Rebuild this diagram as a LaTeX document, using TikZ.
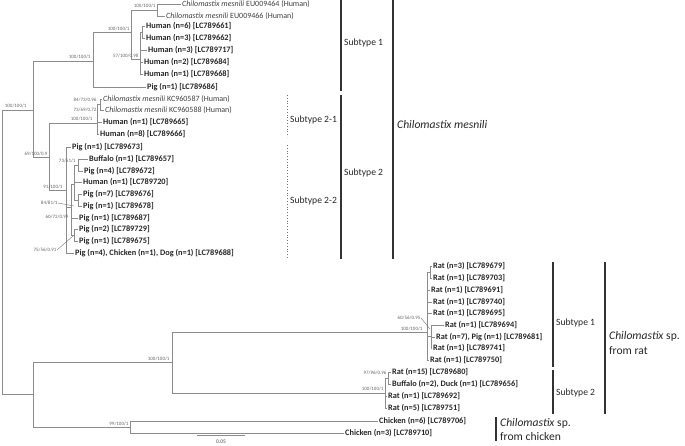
\documentclass[tikz,border=0pt]{standalone}
\usepackage{fontspec}
\setmainfont{Carlito}
\begin{document}
\begin{tikzpicture}[x=1pt,y=-1pt,
  br/.style={draw=black!45, line width=0.9pt},
  lf/.style={anchor=west, inner sep=1pt, font=\fontsize{8.3}{9}\selectfont\bfseries, text=black!85},
  itl/.style={anchor=west, inner sep=1pt, font=\fontsize{8}{9}\selectfont, text=black!75},
  sup/.style={anchor=east, inner sep=0.3pt, font=\fontsize{5}{6}\selectfont, text=black!60},
  ldr/.style={draw=black!55, line width=0.4pt},
  bar/.style={draw=black!80, line width=1.6pt},
  dbar/.style={draw=black!55, line width=0.8pt, dotted},
  lab/.style={anchor=west, inner sep=1pt, font=\fontsize{9.6}{11}\selectfont, text=black!85},
  biglab/.style={anchor=west, inner sep=1pt, font=\fontsize{11.6}{14.5}\selectfont, text=black!85, align=left}]
\useasboundingbox (0,0) rectangle (685,445);
% internal nodes
\coordinate (root) at (2,252);
\coordinate (X) at (33,110);
\coordinate (S1) at (93,61);
\coordinate (T) at (131,32);
\coordinate (EU) at (157,10);
\coordinate (H) at (140,59);
\coordinate (Hs) at (142,32);
\coordinate (S2) at (49,157);
\coordinate (N21) at (97,123);
\coordinate (N84b) at (100,104);
\coordinate (S22) at (66,190);
\coordinate (A60) at (71,207);
\coordinate (A84) at (74,184);
\coordinate (A73) at (78,165);
\coordinate (A7) at (78,200);
\coordinate (A75) at (74,235);
\coordinate (RC) at (33,394);
\coordinate (RT) at (172,362);
\coordinate (RS1) at (427,332);
\coordinate (RA) at (430,272);
\coordinate (RB) at (431,336);
\coordinate (RS2) at (385,393);
\coordinate (R97) at (388,378);
\coordinate (CH) at (130,427);
% leaves
\node[itl] (eu464) at (181,4.5) {\textit{Chilomastix mesnili} EU009464 (Human)};
\node[itl] (eu466) at (165,16) {\textit{Chilomastix mesnili} EU009466 (Human)};
\node[lf] (h6) at (145,26) {Human (n=6) [LC789661]};
\node[lf] (h3a) at (145,38) {Human (n=3) [LC789662]};
\node[lf] (h3b) at (147,50) {Human (n=3) [LC789717]};
\node[lf] (h2) at (143,62) {Human (n=2) [LC789684]};
\node[lf] (h1) at (143,74) {Human (n=1) [LC789668]};
\node[lf] (p686) at (146,87) {Pig (n=1) [LC789686]};
\node[itl] (kc587) at (102,99) {\textit{Chilomastix mesnili} KC960587 (Human)};
\node[itl] (kc588) at (104,110) {\textit{Chilomastix mesnili} KC960588 (Human)};
\node[lf] (h665) at (102,122) {Human (n=1) [LC789665]};
\node[lf] (h666) at (99,134) {Human (n=8) [LC789666]};
\node[lf] (p673) at (71,147) {Pig (n=1) [LC789673]};
\node[lf] (buf) at (88,159) {Buffalo (n=1) [LC789657]};
\node[lf] (p4) at (83,171) {Pig (n=4) [LC789672]};
\node[lf] (h720) at (82,182) {Human (n=1) [LC789720]};
\node[lf] (p7) at (82,194) {Pig (n=7) [LC789676]};
\node[lf] (p678) at (82,206) {Pig (n=1) [LC789678]};
\node[lf] (p687) at (78,218) {Pig (n=1) [LC789687]};
\node[lf] (p729) at (78,229) {Pig (n=2) [LC789729]};
\node[lf] (p675) at (78,241) {Pig (n=1) [LC789675]};
\node[lf] (p688) at (74,253) {Pig (n=4), Chicken (n=1), Dog (n=1) [LC789688]};
\node[lf] (r679) at (432,266) {Rat (n=3) [LC789679]};
\node[lf] (r703) at (432,278) {Rat (n=1) [LC789703]};
\node[lf] (r691) at (430,290) {Rat (n=1) [LC789691]};
\node[lf] (r740) at (432,302) {Rat (n=1) [LC789740]};
\node[lf] (r695) at (432,313) {Rat (n=1) [LC789695]};
\node[lf] (r694) at (444,325) {Rat (n=1) [LC789694]};
\node[lf] (r681) at (435,337) {Rat (n=7), Pig (n=1) [LC789681]};
\node[lf] (r741) at (432,348) {Rat (n=1) [LC789741]};
\node[lf] (r750) at (429,360) {Rat (n=1) [LC789750]};
\node[lf] (r680) at (391,372) {Rat (n=15) [LC789680]};
\node[lf] (b656) at (391,384) {Buffalo (n=2), Duck (n=1) [LC789656]};
\node[lf] (r692) at (387,396) {Rat (n=1) [LC789692]};
\node[lf] (r751) at (387,408) {Rat (n=5) [LC789751]};
\node[lf] (c706) at (378,421) {Chicken (n=6) [LC789706]};
\node[lf] (c710) at (344,433) {Chicken (n=3) [LC789710]};
% branches between internal nodes
\foreach \p/\c in {root/X, root/RC, X/S1, X/S2, S1/T, T/EU, T/H, H/Hs, S2/N21, S2/S22,
  N21/N84b, S22/A60, A60/A84, A60/A75, A84/A73, A84/A7, RC/RT, RC/CH, RT/RS1, RT/RS2,
  RS1/RA, RS1/RB, RS2/R97}
  \draw[br] (\p) |- (\c);
% branches to leaves
\foreach \p/\c in {EU/eu464, EU/eu466, Hs/h6, Hs/h3a, H/h3b, H/h2, H/h1, S1/p686,
  N84b/kc587, N84b/kc588, N21/h665, N21/h666, S22/p673, S22/p688, A73/buf, A73/p4,
  A84/h720, A7/p7, A7/p678, A60/p687, A75/p729, A75/p675,
  RA/r679, RA/r703, RS1/r691, RS1/r740, RS1/r695, RB/r694, RB/r681, RB/r741, RS1/r750,
  R97/r680, R97/b656, RS2/r692, RS2/r751, CH/c706, CH/c710}
  \draw[br] (\p) |- (\c.west);
% support values
\node[sup] (s1) at (156,6) {100/100/1};
\node[sup] (s2) at (130,29) {100/100/1};
\node[sup] (s3) at (91,57) {100/100/1};
\node[sup] (s4) at (139,56) {57/100/0.98};
\node[sup] (s5) at (27,106) {100/100/1};
\node[sup] (s6) at (97,100) {84/73/0.96};
\node[sup] (s7) at (97,110) {73/69/0.72};
\node[sup] (s8) at (93,119) {100/100/1};
\node[sup] (s9) at (48,154) {69/100/0.9};
\node[sup] (s10) at (76,161) {73/61/1};
\node[sup] (s11) at (63,187) {91/100/1};
\node[sup] (s12) at (58,203) {84/81/1};
\node[sup] (s13) at (69,217) {60/72/0.99};
\node[sup] (s14) at (57,250) {75/56/0.91};
\node[sup] (s15) at (170,359) {100/100/1};
\node[sup] (s16) at (129,424) {99/100/1};
\node[sup] (s17) at (421,318) {60/56/0.95};
\node[sup] (s18) at (423,329) {100/100/1};
\node[sup] (s19) at (387,373) {97/96/0.96};
\node[sup] (s20) at (384,389) {100/100/1};
\coordinate (t12) at (74,206);
\coordinate (t14) at (73,236);
\coordinate (t17) at (430,329);
\draw[ldr] (s12.east) -- (t12);
\draw[ldr] (s14.east) -- (t14);
\draw[ldr] (s17.east) -- (t17);
% scale bar
\coordinate (sb1) at (197,435);
\coordinate (sb2) at (245,435);
\draw[br] (sb1) -- (sb2);
\node[font=\fontsize{5.5}{6}\selectfont, text=black!70, inner sep=0.5pt] (sbl) at (221,442) {0.05};
% brackets
\draw[dbar] (287,95) -- (287,137);
\draw[dbar] (287,145) -- (287,258);
\node[lab] at (289,120) {Subtype 2-1};
\node[lab] at (289,201) {Subtype 2-2};
\draw[bar] (341,0) -- (341,91);
\draw[bar] (341,95) -- (341,259);
\node[lab] at (343,43) {Subtype 1};
\node[lab] at (343,173) {Subtype 2};
\draw[bar] (393,0) -- (393,259);
\node[biglab] at (396,125) {\textit{Chilomastix mesnili}};
\draw[bar] (553,262) -- (553,367);
\draw[bar] (553,370) -- (553,414);
\node[lab] at (555,323) {Subtype 1};
\node[lab] at (555,393) {Subtype 2};
\draw[bar] (605,262) -- (605,414);
\node[biglab] at (608,343) {\textit{Chilomastix} sp.\\from rat};
\draw[bar] (496,417) -- (496,441);
\node[biglab] at (499,429.5) {\textit{Chilomastix} sp.\\from chicken};
\end{tikzpicture}
\end{document}
